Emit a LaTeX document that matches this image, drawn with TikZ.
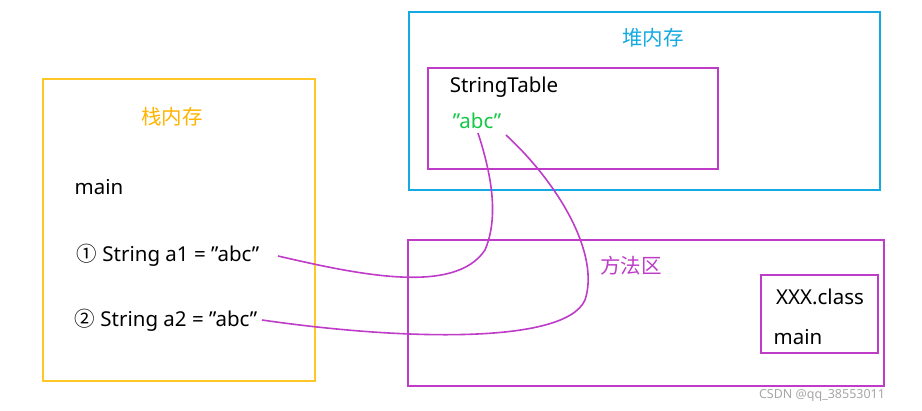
\documentclass[tikz,border=0pt]{standalone}
\usepackage{fontspec}
\setmainfont{Noto Sans}
\newfontfamily\cjk{Noto Sans CJK SC}
\newcommand{\q}{\symbol{34}}
\definecolor{ylw}{RGB}{255,200,40}
\definecolor{org}{RGB}{255,180,0}
\definecolor{blu}{RGB}{20,170,225}
\definecolor{pur}{RGB}{190,60,200}
\definecolor{grn}{RGB}{20,200,70}
\begin{document}
\begin{tikzpicture}[x=1pt,y=-1pt,
  box/.style={draw,line width=1.4pt},
  txt/.style={font=\fontsize{20.5}{24}\selectfont,inner sep=0pt},
  link/.style={pur,line width=1.6pt}]
\useasboundingbox (0,0) rectangle (922,411);
\draw[box,ylw] (43,79) rectangle (315,381);
\draw[box,blu] (409,12) rectangle (880,190);
\draw[box,pur] (428,68) rectangle (718,169);
\draw[box,pur] (408,240) rectangle (884,386);
\draw[box,pur] (761,275) rectangle (878,353);
\node[txt,org] (stk) at (172,117) {\cjk 栈内存};
\node[txt,blu] (heap) at (653,38) {\cjk 堆内存};
\node[txt,pur] (meth) at (631,266) {\cjk 方法区};
\node[txt] (main) at (99,187) {main};
\node[txt] (a1) at (168,255) {{\cjk ①} String a1 = \q abc\q};
\node[txt] (a2) at (166,320) {{\cjk ②} String a2 = \q abc\q};
\node[txt] (st) at (504,87) {StringTable};
\node[txt,grn] (abc) at (477,121) {\q abc\q};
\node[txt] (cls) at (820,297) {XXX.class};
\node[txt] (m2) at (798,337) {main};
\node[inner sep=0pt,gray!70,font=\fontsize{12.5}{14}\selectfont] (wm) at (822,395) {CSDN @qq\_38553011};
\coordinate (s1) at (278,256);
\coordinate (s2) at (262,320);
\coordinate (e1) at (478,133);
\coordinate (e2) at (506,135);
\draw[link] (s1) .. controls (360,275) and (455,295) .. (485,250) .. controls (500,215) and (490,170) .. (e1);
\draw[link] (s2) .. controls (400,340) and (565,345) .. (585,300) .. controls (600,255) and (560,185) .. (e2);
\end{tikzpicture}
\end{document}
